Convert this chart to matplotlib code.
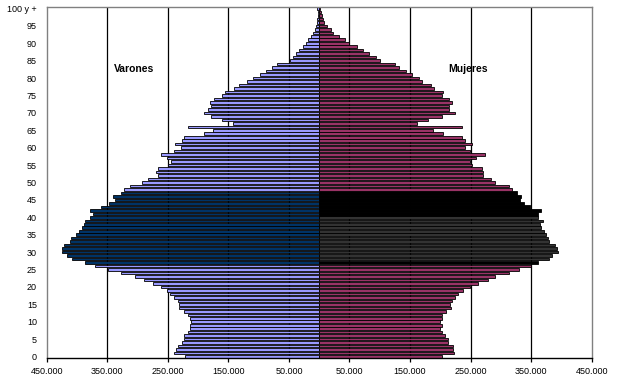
import matplotlib
matplotlib.use('Agg')
import matplotlib.pyplot as plt
from matplotlib.ticker import FuncFormatter

# population by single year of age (thousands), 0 .. 100+
ages = list(range(101))
varones = [221, 239, 236, 234, 226, 224, 224, 216, 213, 213,
           211, 213, 216, 224, 231, 231, 234, 239, 246, 252,
           262, 275, 290, 305, 328, 348, 371, 386, 408, 416,
           424, 425, 421, 411, 410, 401, 396, 391, 388, 386,
           378, 373, 378, 360, 347, 337, 340, 328, 322, 313,
           292, 282, 267, 269, 267, 249, 244, 251, 262, 239,
           228, 238, 226, 223, 191, 176, 216, 142, 160, 179,
           191, 183, 179, 180, 173, 160, 155, 140, 132, 119,
           110, 97, 88, 78, 69, 49, 44, 38, 33, 27,
           22, 18, 14, 10, 7, 5, 4, 3, 2.5, 2,
           3]
mujeres = [203, 223, 221, 221, 212, 212, 208, 203, 199, 202,
           200, 202, 203, 210, 218, 216, 220, 225, 230, 238,
           249, 263, 278, 291, 313, 330, 350, 362, 380, 385,
           395, 392, 390, 380, 378, 374, 371, 367, 365, 369,
           361, 361, 366, 348, 338, 332, 334, 326, 319, 313,
           291, 283, 271, 271, 269, 253, 249, 259, 273, 249,
           240, 253, 240, 236, 205, 188, 235, 161, 180, 202,
           225, 215, 214, 219, 215, 202, 204, 189, 184, 169,
           164, 153, 143, 131, 125, 100, 93, 83, 72, 62,
           50, 42, 32, 23, 19, 13, 8.5, 6, 4, 2.5,
           2]
age_labels = [str(a) for a in range(0, 100, 5)] + ['100 y +']
x_ticks = list(range(-450000, 450001, 100000))

# highlighted cohort
band = range(27, 48)

male_colors = ['#003366' if a in band else '#9999FF' for a in ages]
fem_colors = []
for a in ages:
    if a == 27 or 41 <= a <= 47:
        fem_colors.append('#000000')
    elif a in band:
        fem_colors.append('#333333')
    else:
        fem_colors.append('#993366')
fem_heights = [1.0 if c == '#000000' else 0.74 for c in fem_colors]

plt.rcParams['font.family'] = ['Liberation Sans', 'DejaVu Sans']

fig = plt.figure(figsize=(6.27, 3.82), dpi=100)
ax = fig.add_axes([0.0745, 0.062, 0.8692, 0.9205])

for g in [-350000, -250000, -150000, -50000, 50000, 150000, 250000, 350000]:
    ax.axvline(g, color='black', lw=0.9, zorder=1)

ax.barh(ages, [-v * 1000 for v in varones], height=0.74, color=male_colors,
        edgecolor='black', linewidth=0.6, zorder=2)
ax.barh(ages, [v * 1000 for v in mujeres], height=fem_heights, color=fem_colors,
        edgecolor='black', linewidth=0.6, zorder=2)

ax.set_xlim(-450000, 450000)
ax.set_ylim(-0.5, 100.5)
ax.set_xticks(x_ticks)
ax.xaxis.set_major_formatter(FuncFormatter(lambda v, p: f'{abs(int(v)):,}'.replace(',', '.')))
ax.set_yticks(list(range(0, 101, 5)))
ax.set_yticklabels(age_labels)
ax.tick_params(axis='x', length=3, width=0.9, pad=3, labelsize=6.5, color='black')
ax.tick_params(axis='y', length=0, pad=7, labelsize=6.5)

for s in ['left', 'top', 'right']:
    ax.spines[s].set_color('#808080')
    ax.spines[s].set_linewidth(1.0)
ax.spines['bottom'].set_color('black')
ax.spines['bottom'].set_linewidth(1.0)

ax.text(-305000, 82.7, 'Varones', fontsize=7.5, fontweight='bold', ha='center', va='center')
ax.text(245000, 82.7, 'Mujeres', fontsize=7.5, fontweight='bold', ha='center', va='center')

fig.savefig('out.png', dpi=100)
